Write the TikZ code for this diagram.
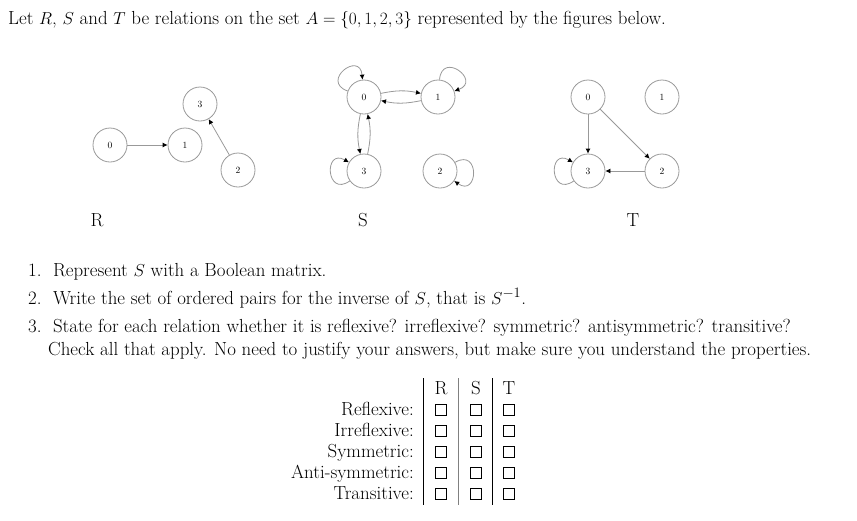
\documentclass[tikz,border=0pt]{standalone}
\usetikzlibrary{arrows.meta}
\begin{document}
\begin{tikzpicture}[x=1pt,y=-1pt,
  vx/.style={circle,draw=gray!80,thick,minimum size=34pt,inner sep=0pt,font=\fontsize{9.5}{10}\selectfont},
  ar/.style={draw=gray!80,thick,-{Latex[length=5pt,width=5pt,color=black]}},
  txt/.style={anchor=base west,inner sep=0pt,font=\fontsize{18.9}{21}\selectfont},
  lab/.style={anchor=base east,inner sep=0pt,font=\fontsize{18.9}{21}\selectfont},
  cell/.style={anchor=base,inner sep=0pt,font=\fontsize{18.9}{21}\selectfont},
  chk/.style={draw,line width=0.8pt,minimum size=11pt,inner sep=0pt}]
\useasboundingbox (0,0) rectangle (857,520);
\node[txt] (t0) at (8,24) {Let $R$, $S$ and $T$ be relations on the set $A=\{0,1,2,3\}$ represented by the figures below.};
% R
\node[vx] (r0) at (110,145) {0};
\node[vx] (r1) at (185,145) {1};
\node[vx] (r3) at (200,104) {3};
\node[vx] (r2) at (238,170) {2};
\draw[ar] (r0) -- (r1);
\draw[ar] (r2) -- (r3);
% S
\node[vx] (s0) at (364,97) {0};
\node[vx] (s1) at (438,97) {1};
\node[vx] (s3) at (364,171) {3};
\node[vx] (s2) at (440,171) {2};
\draw[ar] (s0) to[bend left=12] (s1);
\draw[ar] (s1) to[bend left=12] (s0);
\draw[ar] (s0) to[bend right=12] (s3);
\draw[ar] (s3) to[bend right=12] (s0);
\draw[ar] (s0.160) to[out=160,in=95,looseness=4] (s0.95);
\draw[ar] (s1.85) to[out=85,in=20,looseness=4] (s1.20);
\draw[ar] (s3.215) to[out=215,in=150,looseness=4] (s3.150);
\draw[ar] (s2.30) to[out=30,in=-35,looseness=4] (s2.-35);
% T
\node[vx] (t0v) at (588,97) {0};
\node[vx] (t1) at (662,97) {1};
\node[vx] (t3) at (588,171) {3};
\node[vx] (t2) at (662,171) {2};
\draw[ar] (t0v) -- (t3);
\draw[ar] (t0v) -- (t2);
\draw[ar] (t2) -- (t3);
\draw[ar] (t3.215) to[out=215,in=150,looseness=4] (t3.150);
\node[cell] (lr) at (97,226) {R};
\node[cell] (ls) at (363,226) {S};
\node[cell] (lt) at (633,226) {T};
% list
\node[txt] (n1) at (28,276) {1.\ \ Represent $S$ with a Boolean matrix.};
\node[txt] (n2) at (28,304) {2.\ \ Write the set of ordered pairs for the inverse of $S$, that is $S^{-1}$.};
\node[txt] (n3) at (28,332) {3.\ \ State for each relation whether it is reflexive? irreflexive? symmetric? antisymmetric? transitive?};
\node[txt] (n4) at (48,355) {Check all that apply. No need to justify your answers, but make sure you understand the properties.};
% table
\draw[line width=0.8pt] (423,378) -- (423,505);
\draw[line width=0.8pt,gray] (458,378) -- (458,505);
\draw[line width=0.8pt] (492,378) -- (492,505);
\node[cell] (hr) at (441,394) {R};
\node[cell] (hs) at (476,394) {S};
\node[cell] (ht) at (509,394) {T};
\foreach \n/\y in {Reflexive:/415,Irreflexive:/436,Symmetric:/457,Anti-symmetric:/478,Transitive:/499}{
  \node[lab] at (414,\y) {\n};
  \foreach \x in {441,476,509} \node[chk] at (\x,\y-5) {};
}
\end{tikzpicture}
\end{document}
